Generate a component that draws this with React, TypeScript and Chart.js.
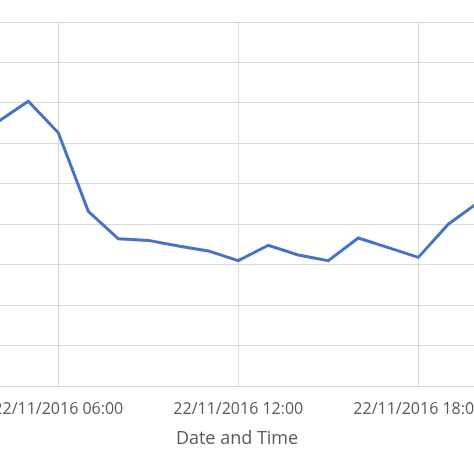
import React, { useEffect, useRef } from "react";
import Chart from "chart.js/auto";

// Hours of 22/11/2016
const hours = [4, 5, 6, 7, 8, 9, 10, 11, 12, 13, 14, 15, 16, 17, 18, 19, 20];
const values = [32.7, 35.2, 31.3, 21.6, 18.2, 18.0, 17.3, 16.7, 15.5, 17.4, 16.2, 15.5, 18.3, 17.1, 15.9, 20.0, 22.7];
const xTickHours = [6, 12, 18];
const xTickLabels = ["22/11/2016 06:00", "22/11/2016 12:00", "22/11/2016 18:00"];
const xTitle = "Date and Time";

const TEXT = "#595959";
const GRID = "#d9d9d9";
const FONT = "'Open Sans', 'DejaVu Sans', sans-serif";

export default function App() {
  const ref = useRef<HTMLCanvasElement | null>(null);
  useEffect(() => {
    if (!ref.current) return;
    const chart = new Chart(ref.current, {
      type: "line",
      data: {
        datasets: [
          {
            data: hours.map((h, i) => ({ x: h, y: values[i] })),
            borderColor: "#4472C4",
            borderWidth: 3,
            pointRadius: 0,
            tension: 0,
            fill: false,
          },
        ],
      },
      options: {
        animation: false,
        responsive: false,
        maintainAspectRatio: false,
        layout: { padding: { left: 90, right: 90, top: 22, bottom: 0 } },
        plugins: { legend: { display: false }, tooltip: { enabled: false } },
        scales: {
          x: {
            type: "linear",
            min: 3.723,
            max: 20.19,
            afterBuildTicks: (s: any) => {
              s.ticks = xTickHours.map((v) => ({ value: v }));
            },
            afterFit: (s: any) => {
              s.height = 88;
            },
            grid: { color: GRID, drawTicks: false, lineWidth: 1 },
            border: { color: GRID, width: 1 },
            ticks: {
              padding: 14,
              maxRotation: 0,
              autoSkip: false,
              color: TEXT,
              font: { family: FONT, size: 16 },
              callback: (v: any) => {
                const i = xTickHours.indexOf(Number(v));
                return i >= 0 ? xTickLabels[i] : "";
              },
            },
            title: {
              display: true,
              text: xTitle,
              color: TEXT,
              font: { family: FONT, size: 18 },
              padding: { top: 0, bottom: 24 },
            },
          },
          y: {
            min: 0,
            max: 45,
            ticks: { display: false, stepSize: 5 },
            grid: { color: GRID, drawTicks: false, lineWidth: 1 },
            border: { display: false },
          },
        },
      },
    });
    return () => chart.destroy();
  }, []);
  return (
    <div style={{ position: "fixed", left: 0, top: 0, width: 474, height: 474, overflow: "hidden", background: "#fff" }}>
      <canvas ref={ref} width={674} height={474} style={{ position: "absolute", left: -100, top: 0, width: 674, height: 474 }} />
    </div>
  );
}
